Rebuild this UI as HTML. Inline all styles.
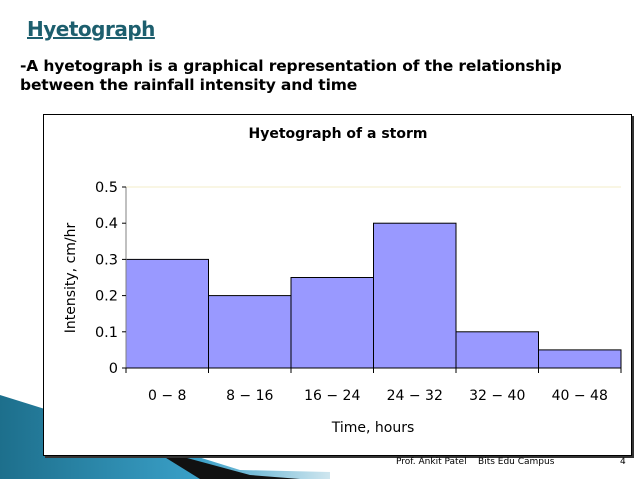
<!DOCTYPE html>
<html><head><meta charset="utf-8"><style>
body{margin:0;width:638px;height:479px;background:#fff;overflow:hidden;font-family:"DejaVu Sans","Liberation Sans",sans-serif;position:relative}
.t{position:absolute;white-space:nowrap}
</style></head><body>
<svg width="638" height="479" style="position:absolute;left:0;top:0">
<defs><linearGradient id="g" x1="0" y1="0" x2="1" y2="0"><stop offset="0" stop-color="#1d6f8c"/><stop offset="0.6" stop-color="#3aa0c8"/><stop offset="1" stop-color="#cfe6ef"/></linearGradient></defs>
<polygon points="0,395 240,470 330,472 330,479 0,479" fill="url(#g)"/>
<polygon points="150,448 250,475 300,479 200,479" fill="#111"/>
</svg>
<div class="t" style="left:27px;top:17px;font-size:20px;font-weight:bold;color:#1d5f6e;text-decoration:underline;letter-spacing:-0.5px">Hyetograph</div>
<div class="t" style="left:20px;top:57px;font-size:15.5px;font-weight:bold;line-height:19px;color:#000;letter-spacing:-0.15px">-A hyetograph is a graphical representation of the relationship<br>between the rainfall intensity and time</div>
<div style="position:absolute;left:43px;top:114px;width:587px;height:340px;border:1px solid #000;box-shadow:2px 2px 0 #333;background:#fff"></div>
<svg id="c" width="638" height="479" style="position:absolute;left:0;top:0"></svg>
<div class="t" style="left:396px;top:457px;font-size:9px">Prof. Ankit Patel &nbsp;&nbsp; Bits Edu Campus</div>
<div class="t" style="left:620px;top:457px;font-size:9px">4</div>
<script>
const categories=["0 - 8","8 - 16","16 - 24","24 - 32","32 - 40","40 - 48"];
const intensity=[0.3,0.2,0.25,0.4,0.1,0.05];
const yTicks=[0,0.1,0.2,0.3,0.4,0.5];
const svg=document.getElementById('c'),NS='http://www.w3.org/2000/svg';
const X0=126,X1=621,Y0=368,Y1=187,YMAX=0.5;
const bw=(X1-X0)/categories.length;
const y=v=>Y0-(v/YMAX)*(Y0-Y1);
const x=i=>X0+i*bw;
function el(t,a,txt){const e=document.createElementNS(NS,t);for(const k in a)e.setAttribute(k,a[k]);if(txt!==undefined)e.textContent=txt;svg.appendChild(e);return e;}
let e;
e=el('text',{x:338,y:138,'text-anchor':'middle','font-size':14,'font-weight':'bold','font-family':'DejaVu Sans,sans-serif'},'Hyetograph of a storm');

e=el('line',{x1:X0,y1:Y1,x2:X1,y2:Y1,stroke:'#f3eec8'});

intensity.forEach((v,i)=>{
 const r=el('rect',{x:x(i),y:y(v),width:bw,height:Y0-y(v),fill:'#9999ff',stroke:'#000','stroke-width':1});
 
 
});
e=el('line',{x1:X0,y1:Y1,x2:X0,y2:Y0,stroke:'#808080'});

e=el('line',{x1:X0,y1:Y0,x2:X1,y2:Y0,stroke:'#000'});

yTicks.forEach(t=>{
 el('line',{x1:X0-4,y1:y(t),x2:X0,y2:y(t),stroke:'#000'});
 const l=el('text',{x:X0-8,y:y(t)+5,'text-anchor':'end','font-size':14.5,'font-family':'DejaVu Sans,sans-serif'},String(t));
 
 
});
for(let i=0;i<=categories.length;i++)el('line',{x1:x(i),y1:Y0,x2:x(i),y2:Y0+5,stroke:'#000'});
categories.forEach((c,i)=>{
 const l=el('text',{x:x(i)+bw/2,y:400,'text-anchor':'middle','font-size':14,'font-family':'DejaVu Sans,sans-serif'},c.replace('-','\u2212'));
 
 
});
e=el('text',{x:373,y:432,'text-anchor':'middle','font-size':14,'font-family':'DejaVu Sans,sans-serif'},'Time, hours');

e=el('text',{x:0,y:0,'text-anchor':'middle','font-size':14,'font-family':'DejaVu Sans,sans-serif',transform:'translate(75,278) rotate(-90)'},'Intensity, cm/hr');

</script>
</body></html>
